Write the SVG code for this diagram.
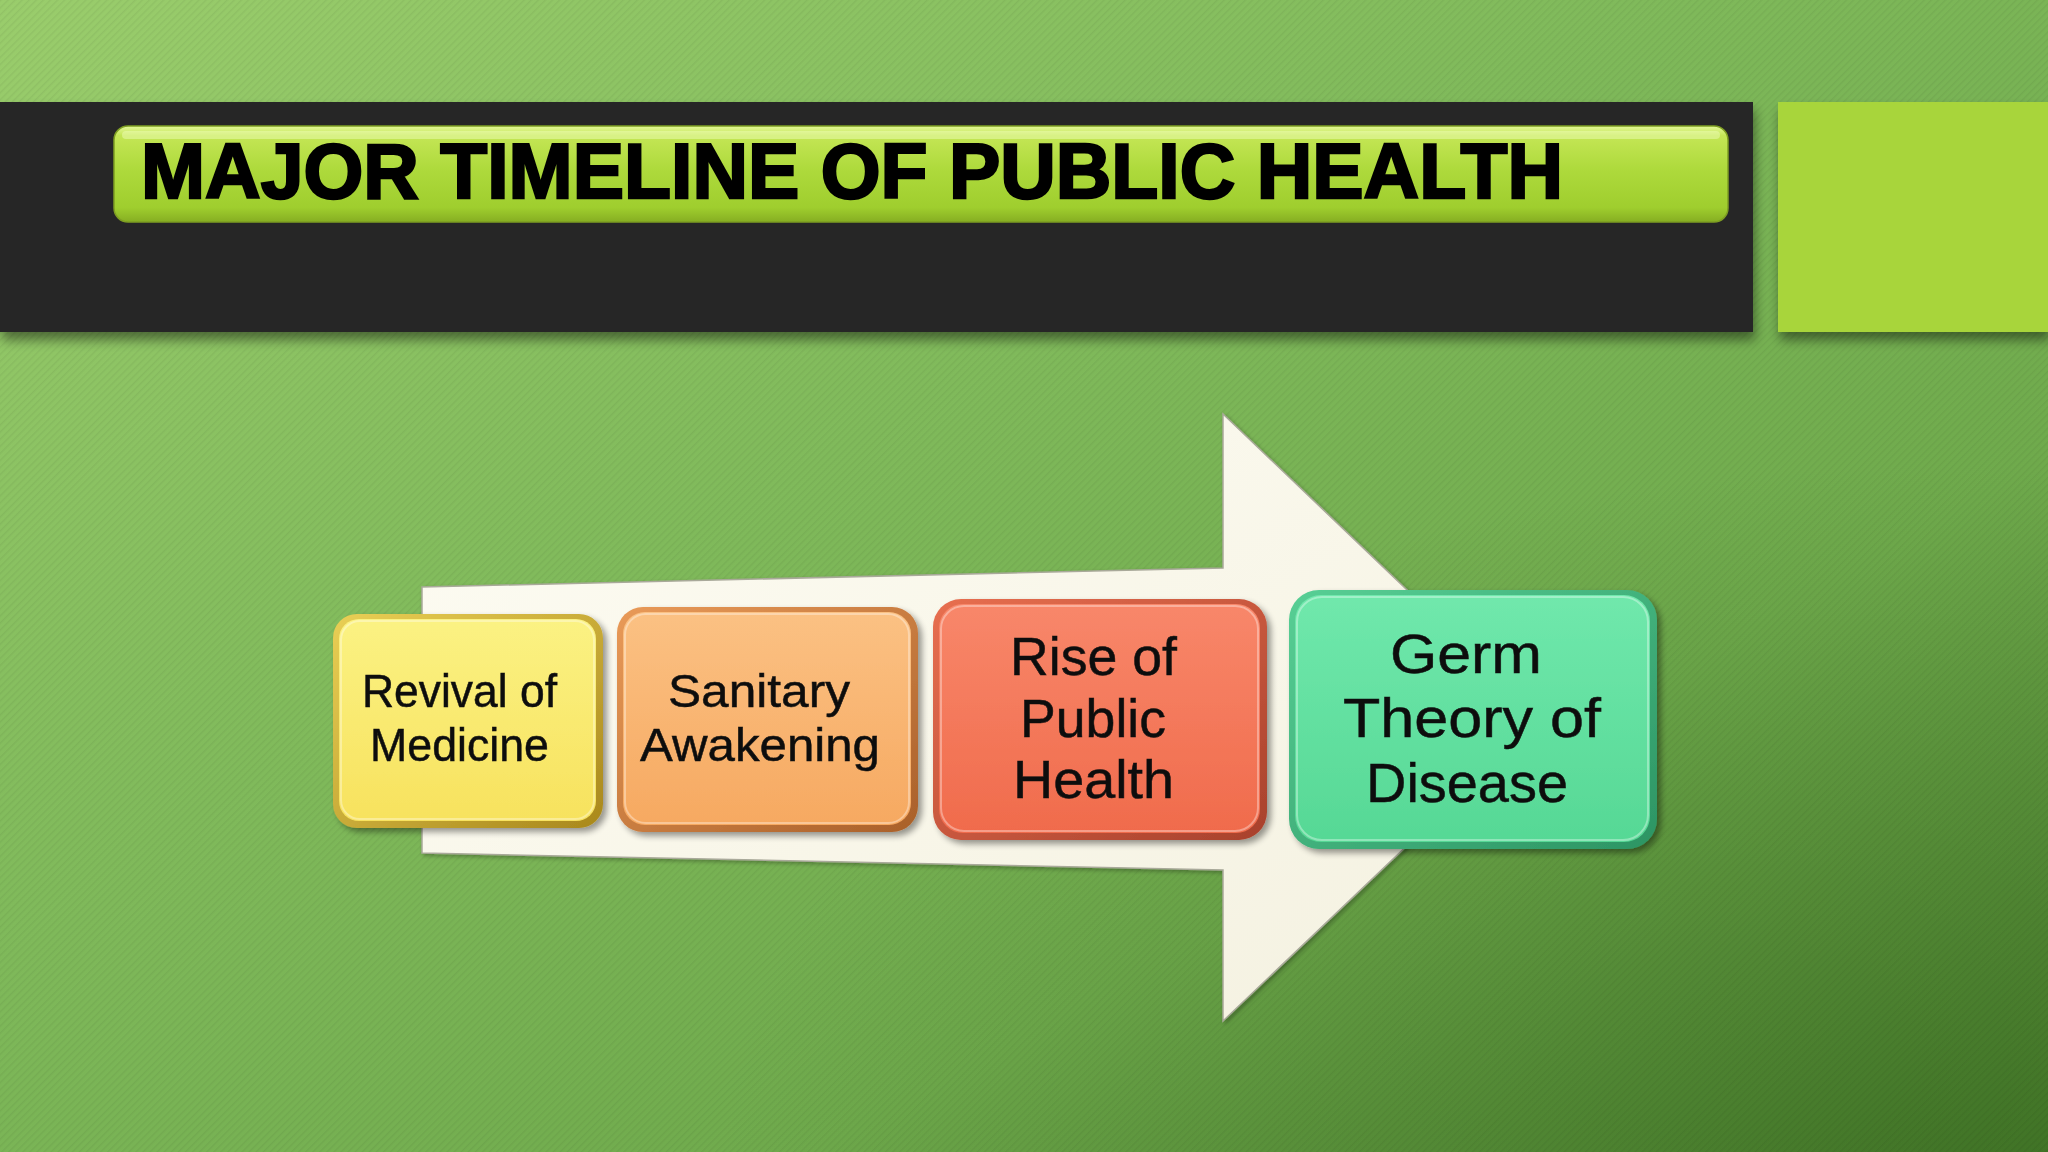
<svg xmlns="http://www.w3.org/2000/svg" width="2048" height="1152" viewBox="0 0 2048 1152">
  <defs>
    <linearGradient id="bg" x1="0" y1="0" x2="1" y2="1">
      <stop offset="0" stop-color="#9ACD6C"/>
      <stop offset="0.4" stop-color="#80BA5B"/>
      <stop offset="0.7" stop-color="#6FAA4C"/>
      <stop offset="1" stop-color="#497E2C"/>
    </linearGradient>
    <radialGradient id="vig" cx="0.95" cy="1" r="0.6">
      <stop offset="0" stop-color="#2F5E1A" stop-opacity="0.35"/>
      <stop offset="1" stop-color="#2F5E1A" stop-opacity="0"/>
    </radialGradient>
    <pattern id="stripes" width="5" height="5" patternUnits="userSpaceOnUse" patternTransform="rotate(45)">
      <rect width="1.4" height="5" fill="#000" fill-opacity="0.05"/>
    </pattern>
    <linearGradient id="titleGrad" x1="0" y1="0" x2="0" y2="1">
      <stop offset="0" stop-color="#E4F89A"/>
      <stop offset="0.1" stop-color="#C4E655"/>
      <stop offset="0.45" stop-color="#AEDA3C"/>
      <stop offset="0.85" stop-color="#9FCE2E"/>
      <stop offset="1" stop-color="#86AE22"/>
    </linearGradient>
    <linearGradient id="arrowGrad" x1="0" y1="0" x2="1" y2="1">
      <stop offset="0" stop-color="#FDFCF3"/>
      <stop offset="1" stop-color="#F4F1E0"/>
    </linearGradient>
    <linearGradient id="yRim" x1="0" y1="0" x2="1" y2="1">
      <stop offset="0" stop-color="#E9CF55"/>
      <stop offset="1" stop-color="#A9881C"/>
    </linearGradient>
    <linearGradient id="yFace" x1="0" y1="0" x2="0" y2="1">
      <stop offset="0" stop-color="#FBF283"/>
      <stop offset="1" stop-color="#F7E25E"/>
    </linearGradient>
    <linearGradient id="oRim" x1="0" y1="0" x2="1" y2="1">
      <stop offset="0" stop-color="#E99A58"/>
      <stop offset="1" stop-color="#A9602A"/>
    </linearGradient>
    <linearGradient id="oFace" x1="0" y1="0" x2="0" y2="1">
      <stop offset="0" stop-color="#FBC183"/>
      <stop offset="1" stop-color="#F6A961"/>
    </linearGradient>
    <linearGradient id="rRim" x1="0" y1="0" x2="1" y2="1">
      <stop offset="0" stop-color="#E86F50"/>
      <stop offset="1" stop-color="#A8412C"/>
    </linearGradient>
    <linearGradient id="rFace" x1="0" y1="0" x2="0" y2="1">
      <stop offset="0" stop-color="#F8876A"/>
      <stop offset="1" stop-color="#F06B4C"/>
    </linearGradient>
    <linearGradient id="gRim" x1="0" y1="0" x2="1" y2="1">
      <stop offset="0" stop-color="#58CF95"/>
      <stop offset="1" stop-color="#2C9463"/>
    </linearGradient>
    <linearGradient id="gFace" x1="0" y1="0" x2="0" y2="1">
      <stop offset="0" stop-color="#70E8AC"/>
      <stop offset="1" stop-color="#56D895"/>
    </linearGradient>
    <filter id="barShadow" x="-5%" y="-20%" width="110%" height="150%">
      <feGaussianBlur in="SourceAlpha" stdDeviation="6"/>
      <feOffset dx="2" dy="8" result="b"/>
      <feComponentTransfer><feFuncA type="linear" slope="0.45"/></feComponentTransfer>
      <feMerge><feMergeNode/><feMergeNode in="SourceGraphic"/></feMerge>
    </filter>
    <filter id="boxShadow" x="-10%" y="-10%" width="125%" height="125%">
      <feGaussianBlur in="SourceAlpha" stdDeviation="3"/>
      <feOffset dx="4" dy="4" result="b"/>
      <feComponentTransfer><feFuncA type="linear" slope="0.4"/></feComponentTransfer>
      <feMerge><feMergeNode/><feMergeNode in="SourceGraphic"/></feMerge>
    </filter>
    <filter id="arrowShadow" x="-5%" y="-5%" width="110%" height="110%">
      <feGaussianBlur in="SourceAlpha" stdDeviation="2"/>
      <feOffset dx="2" dy="2" result="b"/>
      <feComponentTransfer><feFuncA type="linear" slope="0.3"/></feComponentTransfer>
      <feMerge><feMergeNode/><feMergeNode in="SourceGraphic"/></feMerge>
    </filter>
  </defs>
  <style>
    .lbl { font-family: "Liberation Sans", Arial, sans-serif; fill: #111; stroke: #111; stroke-width: 0.5; }
    .title { font-family: "Liberation Sans", Arial, sans-serif; font-weight: bold; fill: #000; stroke: #000; stroke-width: 2.4; }
    .hl { fill: none; stroke: #FFFFFF; stroke-opacity: 0.35; stroke-width: 2; }
  </style>

  <!-- background -->
  <rect width="2048" height="1152" fill="url(#bg)"/>
  <rect width="2048" height="1152" fill="url(#vig)"/>
  <rect width="2048" height="1152" fill="url(#stripes)"/>

  <!-- header -->
  <g id="header">
    <rect x="0" y="102" width="1753" height="230" fill="#252527" filter="url(#barShadow)"/>
    <rect x="1778" y="102" width="270" height="230" fill="#A8D53A" filter="url(#barShadow)"/>
    <rect x="114" y="126" width="1614" height="96" rx="14" fill="url(#titleGrad)" stroke="#7E9E22" stroke-width="1.5"/>
    <rect x="122" y="131" width="1598" height="8" rx="4" fill="#F2FFC0" fill-opacity="0.45"/>
    <text class="title" x="141" y="198" font-size="77" textLength="1422" lengthAdjust="spacingAndGlyphs">MAJOR TIMELINE OF PUBLIC HEALTH</text>
  </g>

  <!-- connector: the big arrow -->
  <g id="connectors">
    <polygon points="422,587 1223,568 1223,414 1541,718 1223,1021 1223,870 422,853" fill="url(#arrowGrad)" stroke="#A9A99A" stroke-width="1.5" stroke-linejoin="miter" filter="url(#arrowShadow)"/>
  </g>

  <!-- node 1 -->
  <g id="node-revival" filter="url(#boxShadow)">
    <rect x="333" y="614" width="270" height="214" rx="24" fill="url(#yRim)"/>
    <rect x="339" y="619" width="257" height="202" rx="20" fill="url(#yFace)"/>
    <rect x="341" y="621" width="253" height="198" rx="19" class="hl"/>
    <text class="lbl" x="362" y="707" font-size="47" textLength="195" lengthAdjust="spacingAndGlyphs">Revival of</text>
    <text class="lbl" x="370" y="761" font-size="47" textLength="179" lengthAdjust="spacingAndGlyphs">Medicine</text>
  </g>

  <!-- node 2 -->
  <g id="node-sanitary" filter="url(#boxShadow)">
    <rect x="617" y="607" width="301" height="225" rx="26" fill="url(#oRim)"/>
    <rect x="623" y="612" width="288" height="213" rx="22" fill="url(#oFace)"/>
    <rect x="625" y="614" width="284" height="209" rx="21" class="hl"/>
    <text class="lbl" x="668" y="707" font-size="47" textLength="182" lengthAdjust="spacingAndGlyphs">Sanitary</text>
    <text class="lbl" x="640" y="761" font-size="47" textLength="240" lengthAdjust="spacingAndGlyphs">Awakening</text>
  </g>

  <!-- node 3 -->
  <g id="node-rise" filter="url(#boxShadow)">
    <rect x="933" y="599" width="334" height="241" rx="28" fill="url(#rRim)"/>
    <rect x="939" y="604" width="321" height="229" rx="24" fill="url(#rFace)"/>
    <rect x="941" y="606" width="317" height="225" rx="23" class="hl"/>
    <text class="lbl" x="1010" y="675" font-size="54" textLength="167" lengthAdjust="spacingAndGlyphs">Rise of</text>
    <text class="lbl" x="1020" y="737" font-size="54" textLength="146" lengthAdjust="spacingAndGlyphs">Public</text>
    <text class="lbl" x="1013" y="798" font-size="54" textLength="161" lengthAdjust="spacingAndGlyphs">Health</text>
  </g>

  <!-- node 4 -->
  <g id="node-germ" filter="url(#boxShadow)">
    <rect x="1289" y="590" width="368" height="259" rx="30" fill="url(#gRim)"/>
    <rect x="1295" y="595" width="355" height="247" rx="26" fill="url(#gFace)"/>
    <rect x="1297" y="597" width="351" height="243" rx="25" class="hl"/>
    <text class="lbl" x="1390" y="673" font-size="56" textLength="152" lengthAdjust="spacingAndGlyphs">Germ</text>
    <text class="lbl" x="1343" y="737" font-size="56" textLength="258" lengthAdjust="spacingAndGlyphs">Theory of</text>
    <text class="lbl" x="1366" y="802" font-size="56" textLength="202" lengthAdjust="spacingAndGlyphs">Disease</text>
  </g>
</svg>
